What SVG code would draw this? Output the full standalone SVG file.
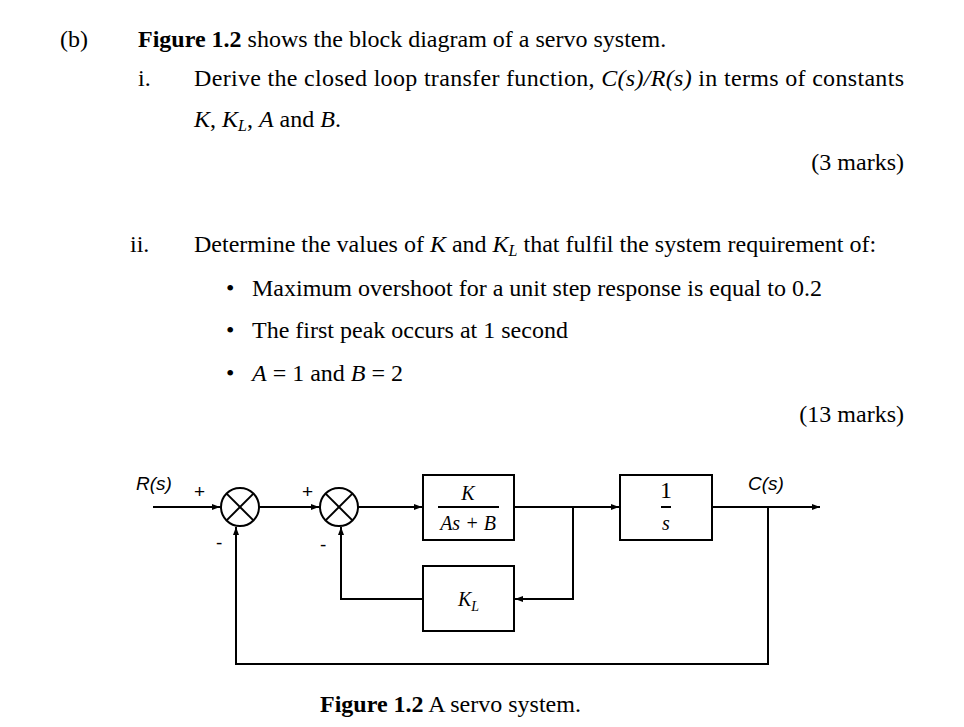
<svg xmlns="http://www.w3.org/2000/svg" width="964" height="727" viewBox="0 0 964 727">
<defs>
<marker id="ar" markerWidth="8" markerHeight="6" refX="8" refY="3" orient="auto" markerUnits="userSpaceOnUse"><path d="M0,0 L8,3 L0,6 Z" fill="#000"/></marker>
<style>
.t{font-family:"Liberation Serif",serif;font-size:24px;fill:#000}
.s{font-family:"Liberation Sans",sans-serif;font-size:19px;fill:#000}
.m{font-family:"Liberation Serif",serif;font-size:20px;font-style:italic;fill:#000}
.ln{stroke:#000;stroke-width:2;fill:none}
.bx{stroke:#000;stroke-width:2;fill:#fff}
</style>
</defs>
<rect width="964" height="727" fill="#fff"/>
<g id="question">
<text class="t" x="60" y="47">(b)</text>
<text class="t" x="138" y="47"><tspan font-weight="bold">Figure 1.2</tspan> shows the block diagram of a servo system.</text>
<text class="t" x="138" y="86">i.</text>
<text class="t" x="194" y="86" textLength="710" lengthAdjust="spacing">Derive the closed loop transfer function, <tspan font-style="italic">C(s)/R(s)</tspan> in terms of constants</text>
<text class="t" x="194" y="127"><tspan font-style="italic">K</tspan>, <tspan font-style="italic">K<tspan font-size="16" dy="4">L</tspan></tspan><tspan dy="-4">, </tspan><tspan font-style="italic">A</tspan> and <tspan font-style="italic">B</tspan>.</text>
<text class="t" x="904" y="170" text-anchor="end">(3 marks)</text>
<text class="t" x="130" y="252">ii.</text>
<text class="t" x="194" y="252">Determine the values of <tspan font-style="italic">K</tspan> and <tspan font-style="italic">K<tspan font-size="16" dy="4">L</tspan></tspan><tspan dy="-4"> that fulfil the system requirement of:</tspan></text>
<text class="t" x="226" y="296" font-size="30">•</text><text class="t" x="252" y="296">Maximum overshoot for a unit step response is equal to 0.2</text>
<text class="t" x="226" y="338" font-size="30">•</text><text class="t" x="252" y="338">The first peak occurs at 1 second</text>
<text class="t" x="226" y="381" font-size="30">•</text><text class="t" x="252" y="381"><tspan font-style="italic">A</tspan> = 1 and <tspan font-style="italic">B</tspan> = 2</text>
<text class="t" x="904" y="422" text-anchor="end">(13 marks)</text>
</g>
<g id="connectors">
<line class="ln" x1="153" y1="507" x2="220" y2="507" marker-end="url(#ar)"/>
<line class="ln" x1="259" y1="507" x2="319" y2="507" marker-end="url(#ar)"/>
<line class="ln" x1="358" y1="507" x2="422" y2="507" marker-end="url(#ar)"/>
<line class="ln" x1="514" y1="507" x2="619" y2="507" marker-end="url(#ar)"/>
<line class="ln" x1="712" y1="507" x2="820" y2="507" marker-end="url(#ar)"/>
<polyline class="ln" points="573,507 573,599 515,599" marker-end="url(#ar)"/>
<polyline class="ln" points="423,599 341,599 341,527" marker-end="url(#ar)"/>
<polyline class="ln" points="768,507 768,664 236,664 236,527" marker-end="url(#ar)"/>
</g>
<g id="sum1">
<circle class="bx" cx="240" cy="507" r="19"/>
<line class="ln" x1="226.6" y1="493.6" x2="253.4" y2="520.4"/>
<line class="ln" x1="253.4" y1="493.6" x2="226.6" y2="520.4"/>
<text class="s" x="194" y="498" font-size="22">+</text>
<text class="s" x="216" y="549" font-size="22">-</text>
</g>
<g id="sum2">
<circle class="bx" cx="339" cy="507" r="19"/>
<line class="ln" x1="325.6" y1="493.6" x2="352.4" y2="520.4"/>
<line class="ln" x1="352.4" y1="493.6" x2="325.6" y2="520.4"/>
<text class="s" x="302" y="498" font-size="22">+</text>
<text class="s" x="320" y="551" font-size="22">-</text>
</g>
<g id="plant">
<rect class="bx" x="423" y="475" width="91" height="65"/>
<text class="m" x="468" y="500" text-anchor="middle">K</text>
<line class="ln" x1="438" y1="507" x2="499" y2="507" stroke-width="1.5"/>
<text class="m" x="468" y="530" text-anchor="middle">As + B</text>
</g>
<g id="integrator">
<rect class="bx" x="620" y="475" width="92" height="65"/>
<text class="t" x="666" y="498" text-anchor="middle" font-size="19">1</text>
<line class="ln" x1="661" y1="507" x2="671" y2="507" stroke-width="1.5"/>
<text class="m" x="666" y="530" text-anchor="middle">s</text>
</g>
<g id="kl">
<rect class="bx" x="423" y="566" width="91" height="65"/>
<text class="m" x="458" y="606">K<tspan font-size="14" dy="5">L</tspan></text>
</g>
<g id="labels">
<text class="s" x="136" y="490" font-style="italic">R(s)</text>
<text class="s" x="748" y="490" font-style="italic">C(s)</text>
<text class="t" x="320" y="712"><tspan font-weight="bold">Figure 1.2</tspan> A servo system.</text>
</g>
</svg>
